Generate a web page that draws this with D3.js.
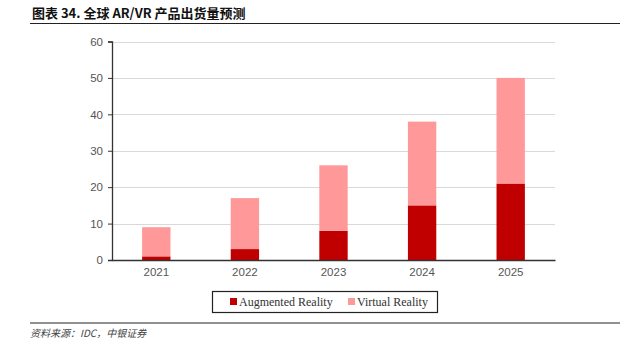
<!DOCTYPE html>
<html>
<head>
<meta charset="utf-8">
<script src="https://cdn.jsdelivr.net/npm/d3@7"></script>
<style>
  body { margin: 0; background: #fff; }
  svg { display: block; }
</style>
</head>
<body>
<div id="chart"></div>
<script>
// 年度
const years = ['2021', '2022', '2023', '2024', '2025'];
// 出货量（百万台）
const arValues = [1, 3, 8, 15, 21];
const vrValues = [8, 14, 18, 23, 29];
const yTicks = [0, 10, 20, 30, 40, 50, 60];
const seriesNames = ['Augmented Reality', 'Virtual Reality'];
const colors = ['#c00000', '#ff9999'];

const width = 640, height = 349;
const svg = d3.select('#chart').append('svg')
    .attr('width', width)
    .attr('height', height);

// タイトル
svg.append('text')
    .attr('x', 32)
    .attr('y', 18)
    .attr('font-family', '"Noto Sans CJK SC", sans-serif')
    .attr('font-size', 13)
    .attr('font-weight', 'bold')
    .attr('fill', '#111')
    .text('图表 34. 全球 AR/VR 产品出货量预测');

svg.append('line')
    .attr('x1', 30).attr('x2', 620)
    .attr('y1', 23.5).attr('y2', 23.5)
    .attr('stroke', '#222').attr('stroke-width', 1.2);

const plot = { left: 112, right: 555, top: 41.5, bottom: 260 };

const x = d3.scaleBand()
    .domain(years)
    .range([plot.left, plot.right])
    .paddingInner(0.68)
    .paddingOuter(0.34);

const y = d3.scaleLinear()
    .domain([0, 60])
    .range([plot.bottom, plot.top]);

// グリッド
svg.append('g')
    .selectAll('line')
    .data(yTicks.filter(d => d > 0))
    .join('line')
    .attr('x1', plot.left).attr('x2', plot.right)
    .attr('y1', d => Math.round(y(d)) + 0.5)
    .attr('y2', d => Math.round(y(d)) + 0.5)
    .attr('stroke', '#d9d9d9')
    .attr('stroke-width', 1);

// 積み上げ
const rows = years.map((yr, i) => ({ year: yr, ar: arValues[i], vr: vrValues[i] }));
const stacked = d3.stack().keys(['ar', 'vr'])(rows);

svg.append('g')
    .selectAll('g')
    .data(stacked)
    .join('g')
    .attr('fill', (d, i) => colors[i])
    .selectAll('rect')
    .data(d => d)
    .join('rect')
    .attr('x', d => x(d.data.year))
    .attr('width', x.bandwidth())
    .attr('y', d => y(d[1]))
    .attr('height', d => y(d[0]) - y(d[1]));

// Y軸
const yAxis = svg.append('g')
    .attr('transform', `translate(${plot.left},0)`)
    .call(d3.axisLeft(y).tickValues(yTicks).tickSize(4).tickPadding(5));
yAxis.select('.domain').attr('stroke', '#333').attr('stroke-width', 1.3);
yAxis.selectAll('.tick line').attr('stroke', '#333');
yAxis.selectAll('text')
    .attr('font-family', '"Liberation Sans", Arial, sans-serif')
    .attr('font-size', 11.5)
    .attr('fill', '#555');

// X軸
const xAxis = svg.append('g')
    .attr('transform', `translate(0,${plot.bottom})`)
    .call(d3.axisBottom(x).tickSize(0).tickPadding(8));
xAxis.select('.domain').attr('stroke', '#333').attr('stroke-width', 1.3);
xAxis.selectAll('text')
    .attr('font-family', '"Liberation Sans", Arial, sans-serif')
    .attr('font-size', 11.5)
    .attr('fill', '#555');

// 凡例
const legend = svg.append('g');
legend.append('rect')
    .attr('x', 212.5).attr('y', 291.5)
    .attr('width', 225).attr('height', 21)
    .attr('fill', '#fff')
    .attr('stroke', '#222')
    .attr('stroke-width', 1.2);
const legendX = [230, 348];
seriesNames.forEach((name, i) => {
    legend.append('rect')
        .attr('x', legendX[i]).attr('y', 298)
        .attr('width', 7).attr('height', 7)
        .attr('fill', colors[i]);
    legend.append('text')
        .attr('x', legendX[i] + 9)
        .attr('y', 306)
        .attr('font-family', '"Liberation Serif", "DejaVu Serif", serif')
        .attr('font-size', 12)
        .attr('fill', '#333')
        .text(name);
});

// 出典
svg.append('line')
    .attr('x1', 30).attr('x2', 620)
    .attr('y1', 323).attr('y2', 323)
    .attr('stroke', '#222').attr('stroke-width', 1);

svg.append('text')
    .attr('x', 30)
    .attr('y', 337)
    .attr('font-family', '"Noto Sans CJK SC", sans-serif')
    .attr('font-size', 10)
    .attr('font-style', 'italic')
    .attr('fill', '#444')
    .text('资料来源：IDC，中银证券');
</script>
</body>
</html>
